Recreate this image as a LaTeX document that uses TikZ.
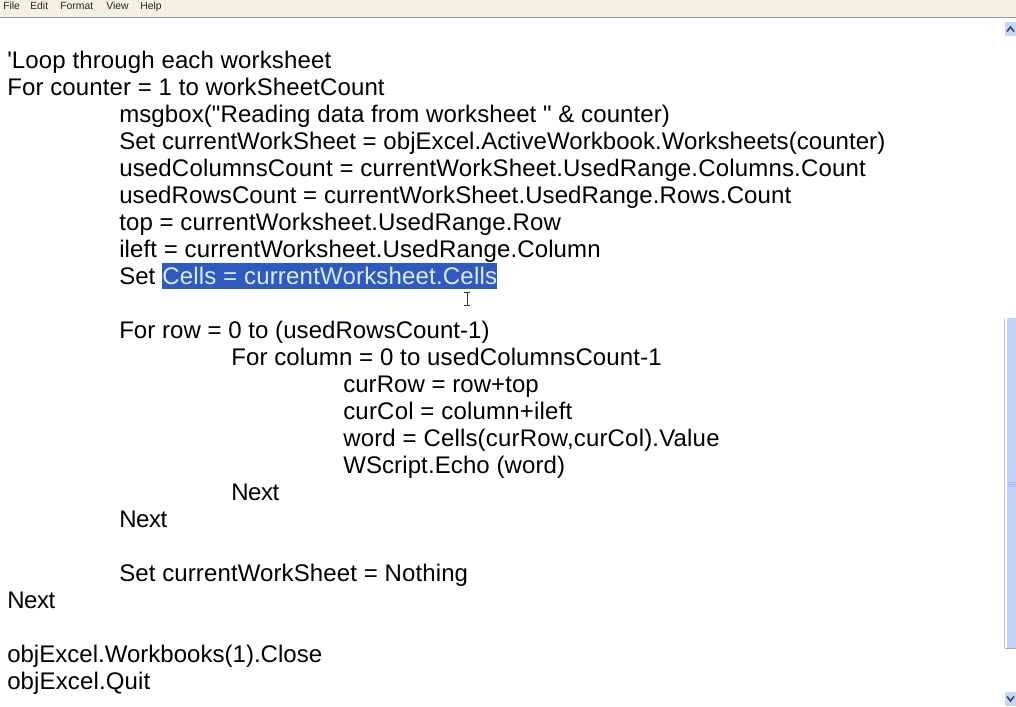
\documentclass[tikz,border=0pt]{standalone}
\usepackage{fontspec}
\setmainfont{Liberation Sans}
\newfontfamily\codefont{Liberation Sans}
\newfontfamily\menufont{Liberation Sans}
\definecolor{menubg}{HTML}{F2F1E4}
\definecolor{menuline}{HTML}{9A9A90}
\definecolor{selblue}{HTML}{2F5AC0}
\definecolor{seltext}{HTML}{DCEBFF}
\definecolor{thumb}{HTML}{C2D4FA}
\definecolor{arrowbg}{HTML}{C8D6FA}
\definecolor{arrowfg}{HTML}{2A3F7A}
\tikzset{
  code/.style={anchor=base west,inner sep=0pt,font=\codefont\fontsize{18pt}{20pt}\selectfont\addfontfeature{LetterSpace=#1},text=black},
  code/.default=0.25,
  menu/.style={anchor=base west,inner sep=0pt,font=\menufont\fontsize{7.8pt}{9pt}\selectfont,text=black!85},
}
\begin{document}
\begin{tikzpicture}[x=0.75pt,y=-0.75pt]
\useasboundingbox (0,0) rectangle (1016,706);
\fill[white] (0,0) rectangle (1016,706);
% menu bar
\fill[menubg] (0,0) rectangle (1016,17);
\draw[menuline,line width=0.75pt] (0,17.5) -- (1016,17.5);
\node[menu] (mfile) at (3,10) {File};
\node[menu] (medit) at (30,10) {Edit};
\node[menu] (mformat) at (60,10) {Format};
\node[menu] (mview) at (106,10) {View};
\node[menu] (mhelp) at (140,10) {Help};
% scrollbar
\fill[arrowbg] (1005,22) rectangle (1016,36);
\draw[arrowfg,line width=1.1pt] (1007,31.5) -- (1010.5,27) -- (1014,31.5);
\fill[thumb] (1007,318) rectangle (1016,648);
\draw[black!25,line width=0.5pt] (1004.5,319) -- (1004.5,648);
\draw[black!35,line width=0.5pt] (1005,648.5) -- (1016,648.5);
\draw[white!70!blue,line width=0.5pt] (1008,482) -- (1016,482) (1008,484) -- (1016,484) (1008,486) -- (1016,486);
\fill[arrowbg] (1005,692) rectangle (1016,706);
\draw[arrowfg,line width=1.1pt] (1007,696.5) -- (1010.5,701) -- (1014,696.5);
% selection
\fill[selblue] (162,263) rectangle (497,289);
% code
\node[code=0.55] (l1) at (7,68.3) {'Loop through each worksheet};
\node[code=0.5] (l2) at (7,95.3) {For counter = 1 to workSheetCount};
\node[code=0.42] (l3) at (119,122.3) {msgbox("Reading data from worksheet " \& counter)};
\node[code] (l4) at (119,149.3) {Set currentWorkSheet = objExcel.ActiveWorkbook.Worksheets(counter)};
\node[code=0.75] (l5) at (119,176) {usedColumnsCount = currentWorkSheet.UsedRange.Columns.Count};
\node[code=0.4] (l6) at (119,203) {usedRowsCount = currentWorkSheet.UsedRange.Rows.Count};
\node[code=0.5] (l7) at (119,230) {top = currentWorksheet.UsedRange.Row};
\node[code=0.55] (l8) at (119,257) {ileft = currentWorksheet.UsedRange.Column};
\node[code] (l9) at (119,284) {Set};
\node[code=0.8,text=seltext] (l9b) at (162,284) {Cells = currentWorksheet.Cells};
\node[code] (l10) at (119,338) {For row = 0 to (usedRowsCount-1)};
\node[code=0.6] (l11) at (231,365) {For column = 0 to usedColumnsCount-1};
\node[code] (l12) at (343,392) {curRow = row+top};
\node[code=0.85] (l13) at (343,419) {curCol = column+ileft};
\node[code=0.75] (l14) at (343,446) {word = Cells(curRow,curCol).Value};
\node[code=0.45] (l15) at (343,473) {WScript.Echo (word)};
\node[code=-1.8] (l16) at (231,500) {Next};
\node[code=-1.8] (l17) at (119,527) {Next};
\node[code=0.5] (l18) at (119,581) {Set currentWorkSheet = Nothing};
\node[code=-1.8] (l19) at (7,608) {Next};
\node[code=0.1] (l20) at (7,662) {objExcel.Workbooks(1).Close};
\node[code=0.55] (l21) at (7,689) {objExcel.Quit};
% I-beam cursor
\draw[black!80,line width=0.6pt] (464,292.5) -- (470,292.5) (467,292.5) -- (467,305.5) (464,305.5) -- (470,305.5);
\end{tikzpicture}
\end{document}
